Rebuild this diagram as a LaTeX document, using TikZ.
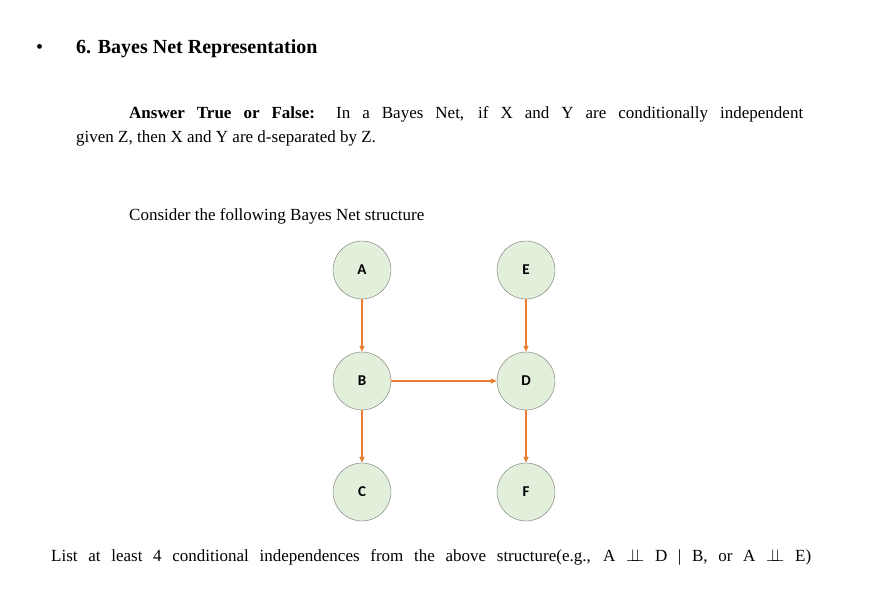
\documentclass[tikz,border=0pt]{standalone}
\usepackage{fontspec}
\setmainfont{Liberation Serif}
\newfontfamily\nodefont{Carlito}
\usetikzlibrary{arrows.meta}
\newcommand{\indep}{\mbox{$\perp\!\!\!\perp$}}
\tikzset{
  bn/.style={circle,draw=black!55,fill=green!25!lime!10!white,fill=bnfill,minimum size=58pt,inner sep=0pt,font=\nodefont\bfseries\fontsize{15}{18}\selectfont},
  edge/.style={draw=bnorange,line width=1.6pt,-{Triangle[length=6pt,width=5pt]}},
  txt/.style={anchor=base west,inner sep=0pt,font=\fontsize{17}{20}\selectfont}
}
\definecolor{bnfill}{HTML}{E2EFDA}
\definecolor{bnorange}{HTML}{ED7D31}
\begin{document}
\begin{tikzpicture}[x=1pt,y=-1pt]
\useasboundingbox[fill=white] (0,0) rectangle (878,601);
\node[txt,font=\fontsize{20}{24}\selectfont] (bul) at (36,54) {•};
\node[txt,font=\bfseries\fontsize{20}{24}\selectfont] (title) at (76,54) {6. Bayes Net Representation};
\node[txt] (q1) at (129,119) {\makebox[674pt][s]{\textbf{Answer True or False:} In a Bayes Net, if X and Y are conditionally independent}};
\node[txt] (q2) at (76,143) {given Z, then X and Y are d-separated by Z.};
\node[txt] (c) at (129,221) {Consider the following Bayes Net structure};
\node[bn] (A) at (362,270) {A};
\node[bn] (E) at (526,270) {E};
\node[bn] (B) at (362,381) {B};
\node[bn] (D) at (526,381) {D};
\node[bn] (C) at (362,492) {C};
\node[bn] (F) at (526,492) {F};
\draw[edge] (A) -- (B);
\draw[edge] (E) -- (D);
\draw[edge] (B) -- (D);
\draw[edge] (B) -- (C);
\draw[edge] (D) -- (F);
\node[txt] (l) at (51,561) {\makebox[760pt][s]{List at least 4 conditional independences from the above structure(e.g., A \indep{} D | B, or A \indep{} E)}};
\end{tikzpicture}
\end{document}
